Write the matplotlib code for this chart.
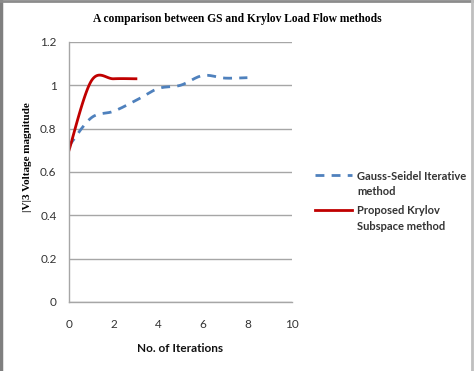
import numpy as np
import matplotlib
matplotlib.use("Agg")
import matplotlib.pyplot as plt
from matplotlib.lines import Line2D

# Data
gs_x = [0, 1, 2, 3, 4, 5, 6, 7, 8]
gs_y = [0.72, 0.85, 0.88, 0.93, 0.985, 1.0, 1.045, 1.033, 1.035]
kr_x = [0, 1, 2, 3]
kr_y = [0.70, 1.02, 1.03, 1.03]
x_ticks = [0, 2, 4, 6, 8, 10]
y_ticks = [0, 0.2, 0.4, 0.6, 0.8, 1.0, 1.2]
y_tick_labels = ["0", "0.2", "0.4", "0.6", "0.8", "1", "1.2"]
labels = [["Gauss-Seidel Iterative", "method"], ["Proposed Krylov", "Subspace method"]]
colors = ["#4F81BD", "#C00000"]
title = "A comparison between GS and Krylov Load Flow methods"
xlabel = "No. of Iterations"
ylabel = "|V|3 Voltage magnitude"

W, H = 474, 371


def smooth(xs, ys, n=30):
    """Excel-like smoothed line (Catmull-Rom Bezier)."""
    p = np.column_stack([xs, ys]).astype(float)
    out = []
    m = len(p)
    for i in range(m - 1):
        p0 = p[i - 1] if i > 0 else p[i]
        p1 = p[i]
        p2 = p[i + 1]
        p3 = p[i + 2] if i + 2 < m else p[i + 1]
        c1 = p1 + (p2 - p0) / 6.0
        c2 = p2 - (p3 - p1) / 6.0
        t = np.linspace(0, 1, n)[:, None]
        seg = ((1 - t) ** 3) * p1 + 3 * ((1 - t) ** 2) * t * c1 + 3 * (1 - t) * t ** 2 * c2 + t ** 3 * p2
        out.append(seg if i == 0 else seg[1:])
    a = np.vstack(out)
    return a[:, 0], a[:, 1]


fig = plt.figure(figsize=(4.74, 3.71), dpi=100)
ax = fig.add_axes([0.1456, 0.186, 0.616 - 0.1456, 0.887 - 0.186])

dash = (3.2, 2.6)
sx, sy = smooth(gs_x, gs_y)
ax.plot(sx, sy, color=colors[0], lw=2.0, dashes=dash)
sx, sy = smooth(kr_x, kr_y)
ax.plot(sx, sy, color=colors[1], lw=2.0)

ax.set_xlim(0, 10)
ax.set_ylim(0, 1.2)
ax.set_xticks(x_ticks)
ax.set_yticks(y_ticks)
ax.set_yticklabels(y_tick_labels)
ax.yaxis.grid(True, color="#A6A6A6", lw=1.0)
ax.set_axisbelow(True)
for s in ["top", "right"]:
    ax.spines[s].set_visible(False)
for s in ["left", "bottom"]:
    ax.spines[s].set_color("#A6A6A6")
    ax.spines[s].set_linewidth(1.0)
ax.tick_params(axis="both", length=0, labelsize=8.5, labelcolor="#333333")
ax.tick_params(axis="y", pad=9)
ax.tick_params(axis="x", pad=12)
for lab in ax.get_xticklabels() + ax.get_yticklabels():
    lab.set_family("Lato")

fig.text(0.50, 0.949, title, ha="center", va="center", fontsize=8.3,
         family="Liberation Serif", fontweight="bold")
fig.text(0.38, 0.06, xlabel, ha="center", va="center", fontsize=8.5,
         family="Lato", fontweight="bold", color="#111111")
fig.text(0.057, 0.577, ylabel, ha="center", va="center", rotation=90,
         fontsize=8, family="Liberation Serif", fontweight="bold")

# legend (handle aligned with first text line, as in the reference)
leg_rows = [175, 210]
line_gap = 15.5
for lab, col, yp in zip(labels, colors, leg_rows):
    yf = 1 - yp / H
    kw = dict(dashes=dash) if col == colors[0] else {}
    fig.add_artist(Line2D([315 / W, 352 / W], [yf, yf], transform=fig.transFigure,
                          color=col, lw=2.0, **kw))
    for k, part in enumerate(lab):
        fig.text(357 / W, 1 - (yp + k * line_gap) / H, part, ha="left", va="center_baseline",
                 fontsize=8, family="Lato", fontweight="bold", color="#333333")

# figure border
fig.add_artist(Line2D([0.003, 0.003], [0, 1], transform=fig.transFigure, color="#7F7F7F", lw=2.5))
fig.add_artist(Line2D([0, 1], [0.996, 0.996], transform=fig.transFigure, color="#8C8C8C", lw=2.0))
fig.add_artist(Line2D([0.996, 0.996], [0, 1], transform=fig.transFigure, color="#BFBFBF", lw=2.0))

fig.savefig("out.png", dpi=100)
